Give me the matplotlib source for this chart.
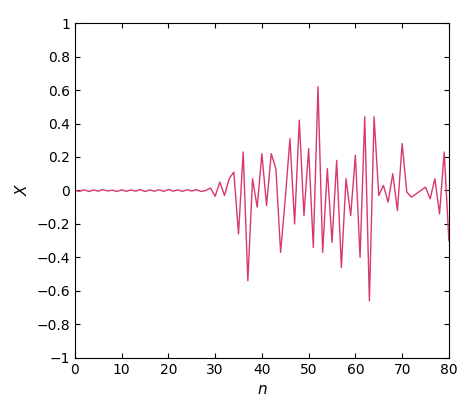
import matplotlib
matplotlib.use("Agg")
import matplotlib.pyplot as plt
import numpy as np

n = list(range(81))
x_early = [0.0, -0.005, 0.004, -0.006, 0.003, -0.004, 0.005, -0.003, 0.002, -0.006,
           0.004, -0.005, 0.003, -0.004, 0.005, -0.006, 0.003, -0.004, 0.004, -0.005,
           0.006, -0.004, 0.003, -0.005, 0.004, -0.003, 0.005, -0.006, 0.0]
x_late = [0.015, -0.035, 0.05, -0.03, 0.07, 0.11, -0.26, 0.23, -0.54, 0.07,
          -0.10, 0.22, -0.09, 0.22, 0.13, -0.37, -0.05, 0.31, -0.2, 0.42,
          -0.15, 0.25, -0.34, 0.62, -0.37, 0.13, -0.31, 0.18, -0.46, 0.07,
          -0.15, 0.21, -0.40, 0.44, -0.66, 0.44, -0.03, 0.03, -0.07, 0.10,
          -0.12, 0.28, -0.01, -0.04, -0.02, 0.0, 0.02, -0.05, 0.07, -0.14,
          0.23, -0.30]
X = x_early + x_late

fig = plt.figure(figsize=(4.74, 4.20), dpi=100)
ax = fig.add_axes([0.158, 0.148, 0.789, 0.797])
ax.plot(n[:len(X)], X, color="#d8386b", lw=1.0)
ax.set_xlim(0, 80)
ax.set_ylim(-1, 1)
ax.set_xticks(range(0, 81, 10))
ax.set_yticks(np.round(np.arange(-1, 1.01, 0.2), 1))
ax.set_yticklabels(["−1", "−0.8", "−0.6", "−0.4", "−0.2", "0", "0.2", "0.4", "0.6", "0.8", "1"])
ax.tick_params(direction="in", top=True, right=True, labelsize=10)
ax.set_xlabel("n", style="italic", fontsize=11)
ax.set_ylabel("X", style="italic", fontsize=11)
fig.savefig("out.png", dpi=100)
